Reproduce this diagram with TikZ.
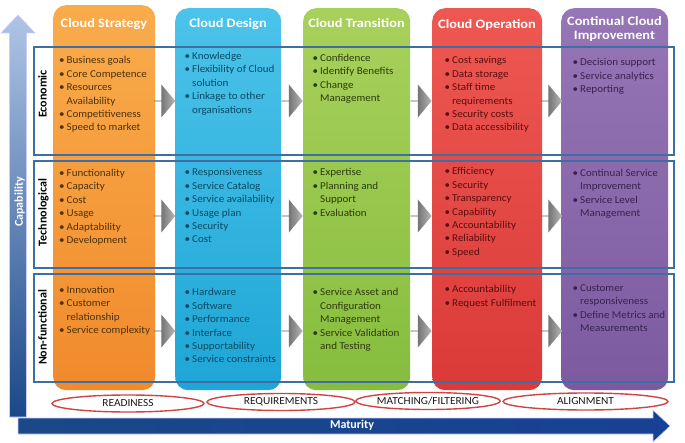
\documentclass[tikz,border=0pt]{standalone}
\usepackage{fontspec}
\setmainfont{Carlito}
\newfontfamily\titlefont[FakeStretch=1.12]{Carlito}
\newfontfamily\bodyfont[FakeStretch=1.05]{Carlito}
\usetikzlibrary{shapes.geometric,shapes.arrows}
\definecolor{orgtop}{HTML}{F9AC4C}
\definecolor{orgbot}{HTML}{F08A2C}
\definecolor{cyntop}{HTML}{4CC3EA}
\definecolor{cynbot}{HTML}{1EA6D6}
\definecolor{grntop}{HTML}{A8D15C}
\definecolor{grnbot}{HTML}{86BD3E}
\definecolor{redtop}{HTML}{EE5852}
\definecolor{redbot}{HTML}{DA3A38}
\definecolor{purtop}{HTML}{9676B6}
\definecolor{purbot}{HTML}{7D5AA0}
\definecolor{orgtxt}{HTML}{4E3208}
\definecolor{cyntxt}{HTML}{0A4A62}
\definecolor{grntxt}{HTML}{2C3A0C}
\definecolor{redtxt}{HTML}{5A0E0E}
\definecolor{purtxt}{HTML}{37224F}
\definecolor{frameblue}{HTML}{3D6EA5}
\definecolor{ellred}{HTML}{D04444}
\definecolor{axislight}{HTML}{AFC5E6}
\definecolor{axisdark}{HTML}{1A4888}
\definecolor{axismid}{HTML}{7B9BD6}
\newcommand\bitem[1]{\par\hangindent=7.5pt\hangafter=1\noindent\makebox[7.5pt][l]{\textbullet}#1}
\newcommand\blist[1]{\begin{minipage}[t]{120pt}\bodyfont\fontsize{10.5}{13.4}\selectfont #1\end{minipage}}
\tikzset{
  colbox/.style={rectangle, rounded corners=13pt, inner sep=0pt, anchor=north west},
  coltitle/.style={font=\titlefont\bfseries\fontsize{12.8}{14.3}\selectfont, text=white, inner sep=0pt, anchor=base, align=center},
  listnode/.style={inner sep=0pt, anchor=base west},
  rowframe/.style={rectangle, draw=frameblue, line width=1.6pt, inner sep=0pt, anchor=north west, minimum width=640pt},
  rowlabel/.style={font=\bfseries\fontsize{12}{14}\selectfont, text=black, rotate=90, anchor=base, inner sep=0pt},
  grayarrow/.style={single arrow, minimum height=21pt, minimum width=33pt, single arrow head extend=7.5pt, single arrow tip angle=100, inner sep=0pt, left color=black!68, right color=black!28},
  ellnode/.style={ellipse, draw=ellred, line width=1.4pt, fill=white, minimum height=17pt, inner sep=0pt, font=\bodyfont\fontsize{10.8}{12}\selectfont, text=black!90},
  axislabel/.style={font=\bfseries\fontsize{12}{14}\selectfont, text=white, inner sep=0pt}
}
\begin{document}
\begin{tikzpicture}[x=1pt,y=-1pt]
\useasboundingbox (0,0) rectangle (685,443);
\fill[white] (0,0) rectangle (685,443);
% axes
\shade[top color=axislight, bottom color=axisdark, draw=white!80!blue, line width=0.6pt]
  (9.5,417) -- (9.5,33) -- (1,33) -- (18,15) -- (35,33) -- (26.5,33) -- (26.5,417) -- cycle;
\shade[left color=axisdark, middle color=axismid, right color=axisdark!90!blue, draw=white!80!blue, line width=0.6pt]
  (18,418) -- (653,418) -- (653,410) -- (670,426) -- (653,442) -- (653,434) -- (18,434) -- cycle;
\node[axislabel, rotate=90, anchor=base] (caplab) at (23,202) {Capability};
\node[axislabel, anchor=base] (matlab) at (352,428.5) {Maturity};
% columns
\node[colbox, top color=orgtop, bottom color=orgbot, minimum width=102pt, minimum height=385pt] (c1) at (53,5) {};
\node[colbox, top color=cyntop, bottom color=cynbot, minimum width=106pt, minimum height=382pt] (c2) at (175,8) {};
\node[colbox, top color=grntop, bottom color=grnbot, minimum width=107pt, minimum height=382pt] (c3) at (303,8) {};
\node[colbox, top color=redtop, bottom color=redbot, minimum width=110pt, minimum height=382pt] (c4) at (432,8) {};
\node[colbox, top color=purtop, bottom color=purbot, minimum width=107pt, minimum height=382pt] (c5) at (561,8) {};
% titles
\node[coltitle] (t1) at (104,27.5) {Cloud Strategy};
\node[coltitle] (t2) at (228,27.5) {Cloud Design};
\node[coltitle] (t3) at (356.5,27.5) {Cloud Transition};
\node[coltitle] (t4) at (487,29) {Cloud Operation};
\node[coltitle] (t5) at (614.5,39.5) {Continual Cloud\\Improvement};
% lists column 1
\node[listnode, text=orgtxt] (l11) at (59,64) {\blist{\bitem{Business goals}\bitem{Core Competence}\bitem{Resources\\Availability}\bitem{Competitiveness}\bitem{Speed to market}}};
\node[listnode, text=orgtxt] (l12) at (59,176.5) {\blist{\bitem{Functionality}\bitem{Capacity}\bitem{Cost}\bitem{Usage}\bitem{Adaptability}\bitem{Development}}};
\node[listnode, text=orgtxt] (l13) at (59,293.5) {\blist{\bitem{Innovation}\bitem{Customer\\relationship}\bitem{Service complexity}}};
% column 2
\node[listnode, text=cyntxt] (l21) at (184.5,59.5) {\blist{\bitem{Knowledge}\bitem{Flexibility of Cloud\\solution}\bitem{Linkage to other\\organisations}}};
\node[listnode, text=cyntxt] (l22) at (184.5,176) {\blist{\bitem{Responsiveness}\bitem{Service Catalog}\bitem{Service availability}\bitem{Usage plan}\bitem{Security}\bitem{Cost}}};
\node[listnode, text=cyntxt] (l23) at (184.5,296) {\blist{\bitem{Hardware}\bitem{Software}\bitem{Performance}\bitem{Interface}\bitem{Supportability}\bitem{Service constraints}}};
% column 3
\node[listnode, text=grntxt] (l31) at (312.5,61.5) {\blist{\bitem{Confidence}\bitem{Identify Benefits}\bitem{Change\\Management}}};
\node[listnode, text=grntxt] (l32) at (312.5,176) {\blist{\bitem{Expertise}\bitem{Planning and\\Support}\bitem{Evaluation}}};
\node[listnode, text=grntxt] (l33) at (312.5,296) {\blist{\bitem{Service Asset and\\Configuration\\Management}\bitem{Service Validation\\and Testing}}};
% column 4
\node[listnode, text=redtxt] (l41) at (444.5,64) {\blist{\bitem{Cost savings}\bitem{Data storage}\bitem{Staff time\\requirements}\bitem{Security costs}\bitem{Data accessibility}}};
\node[listnode, text=redtxt] (l42) at (444.5,175) {\blist{\bitem{Efficiency}\bitem{Security}\bitem{Transparency}\bitem{Capability}\bitem{Accountability}\bitem{Reliability}\bitem{Speed}}};
\node[listnode, text=redtxt] (l43) at (444.5,293) {\blist{\bitem{Accountability}\bitem{Request Fulfilment}}};
% column 5
\node[listnode, text=purtxt] (l51) at (572.5,66) {\blist{\bitem{Decision support}\bitem{Service analytics}\bitem{Reporting}}};
\node[listnode, text=purtxt] (l52) at (572.5,176.5) {\blist{\bitem{Continual Service\\Improvement}\bitem{Service Level\\Management}}};
\node[listnode, text=purtxt] (l53) at (572.5,291.5) {\blist{\bitem{Customer\\responsiveness}\bitem{Define Metrics and\\Measurements}}};
% row frames
\node[rowframe, minimum height=108pt] (r1) at (33,46) {};
\node[rowframe, minimum height=107pt] (r2) at (33,160) {};
\node[rowframe, minimum height=108pt] (r3) at (33,273) {};
% row labels
\node[rowlabel] (rl1) at (46.5,94) {Economic};
\node[rowlabel] (rl2) at (46.5,212.5) {Technological};
\node[rowlabel] (rl3) at (46.5,327.5) {Non-functional};
% gray arrows
\foreach \ax/\an in {164.5/1,292/2,421/3,551.5/4}{
  \node[grayarrow] (a1\an) at (\ax,101) {};
  \node[grayarrow] (a2\an) at (\ax,216) {};
  \node[grayarrow] (a3\an) at (\ax,331) {};
}
% ellipses
\node[ellnode, minimum width=152pt] (e1) at (128,403.5) {READINESS};
\node[ellnode, minimum width=148pt] (e2) at (281,402) {REQUIREMENTS};
\node[ellnode, minimum width=140pt] (e3) at (428,401) {MATCHING/FILTERING};
\node[ellnode, minimum width=165pt] (e4) at (585.5,401.5) {ALIGNMENT};
\end{tikzpicture}
\end{document}
